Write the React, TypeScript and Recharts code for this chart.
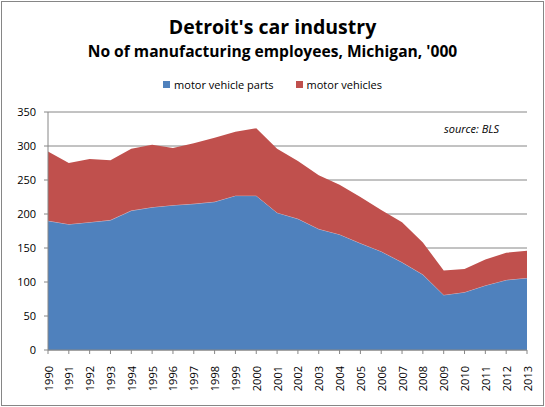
import { AreaChart, Area, XAxis, YAxis, CartesianGrid, Legend } from 'recharts'

const years = ['1990', '1991', '1992', '1993', '1994', '1995', '1996', '1997', '1998', '1999', '2000', '2001',
  '2002', '2003', '2004', '2005', '2006', '2007', '2008', '2009', '2010', '2011', '2012', '2013']

// '000 employees
const vehicleParts = [190, 185, 188, 191, 205, 210, 213, 215, 218, 227, 227, 202,
  193, 178, 170, 157, 145, 129, 111, 81, 85, 95, 103, 106]
const motorVehicles = [102, 90, 93, 88, 91, 92, 84, 89, 94, 94, 99, 94,
  85, 79, 73, 68, 61, 59, 47, 36, 34, 38, 40, 40]

const yTicks = [0, 50, 100, 150, 200, 250, 300, 350]

const FONT = '"Open Sans", "Noto Sans", sans-serif'
const BLUE = '#4F81BD'
const RED = '#C0504D'
const GREY = '#868686'

const data = years.map((year, i) => ({
  year,
  parts: vehicleParts[i],
  vehicles: motorVehicles[i],
}))

function YearTick({ x, y, payload }: any) {
  return (
    <text
      x={x}
      y={y + 10}
      transform={`rotate(-90, ${x}, ${y + 10})`}
      textAnchor="end"
      dominantBaseline="central"
      fontSize={11}
      fontFamily={FONT}
      fill="#000"
    >
      {payload.value}
    </text>
  )
}

function LegendContent() {
  const items = [
    { name: 'motor vehicle parts', color: BLUE },
    { name: 'motor vehicles', color: RED },
  ]
  return (
    <div style={{ display: 'flex', justifyContent: 'center', gap: 22, fontFamily: FONT, fontSize: 11, color: '#000' }}>
      {items.map((it) => (
        <div key={it.name} style={{ display: 'flex', alignItems: 'center' }}>
          <span style={{ width: 7, height: 7, background: it.color, marginRight: 4, display: 'inline-block' }} />
          {it.name}
        </div>
      ))}
    </div>
  )
}

export default function App() {
  return (
    <div
      style={{
        position: 'absolute',
        left: 0,
        top: 0,
        width: 545,
        height: 407,
        background: '#fff',
        fontFamily: FONT,
      }}
    >
      <div
        style={{
          position: 'absolute',
          left: 1,
          top: 1,
          width: 541,
          height: 403,
          border: `1px solid ${GREY}`,
        }}
      />
      <div style={{ position: 'absolute', top: 13, width: 545, textAlign: 'center', fontSize: 19.5, fontWeight: 700 }}>
        Detroit's car industry
      </div>
      <div style={{ position: 'absolute', top: 40, width: 545, textAlign: 'center', fontSize: 15.6, fontWeight: 700 }}>
        No of manufacturing employees, Michigan, '000
      </div>
      <div style={{ position: 'absolute', left: 444, top: 121, fontSize: 11, fontStyle: 'italic' }}>source: BLS</div>
      <AreaChart width={545} height={407} data={data} margin={{ top: 112, right: 18, bottom: 7, left: 0 }}>
        <CartesianGrid vertical={false} stroke={GREY} />
        <XAxis
          dataKey="year"
          interval={0}
          tick={<YearTick />}
          tickSize={4}
          stroke={GREY}
          height={50}
        />
        <YAxis
          domain={[0, 350]}
          ticks={yTicks}
          width={48}
          tickSize={4}
          tickMargin={8}
          stroke={GREY}
          tick={{ fill: '#000', fontSize: 11, fontFamily: FONT }}
        />
        <Legend
          verticalAlign="middle"
          align="center"
          content={<LegendContent />}
          wrapperStyle={{ top: 77, left: 0, width: 545 }}
        />
        <Area
          dataKey="parts"
          name="motor vehicle parts"
          stackId="a"
          type="linear"
          fill={BLUE}
          fillOpacity={1}
          stroke="#d9c6d2"
          strokeWidth={0.8}
          isAnimationActive={false}
        />
        <Area
          dataKey="vehicles"
          name="motor vehicles"
          stackId="a"
          type="linear"
          fill={RED}
          fillOpacity={1}
          stroke="none"
          isAnimationActive={false}
        />
      </AreaChart>
    </div>
  )
}
